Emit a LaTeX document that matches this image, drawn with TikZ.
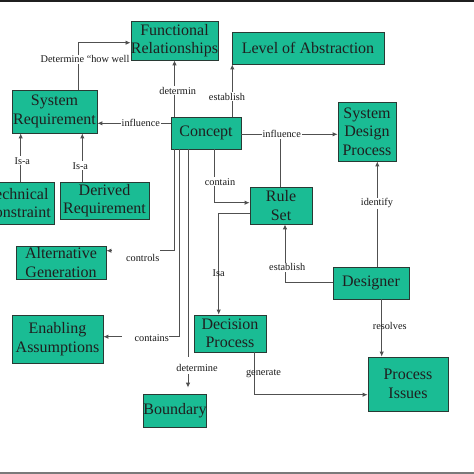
\documentclass[tikz,border=0pt]{standalone}
\usepackage{fontspec}
\setmainfont{Liberation Serif}
\usetikzlibrary{arrows.meta}
\definecolor{boxteal}{RGB}{26,188,148}
\definecolor{boxline}{RGB}{40,58,52}
\definecolor{wirecol}{RGB}{80,80,80}
\tikzset{
  cbox/.style={draw=boxline, line width=0.8pt, fill=boxteal, inner sep=0pt, align=center,
    font=\fontsize{16}{18.5}\selectfont, text=black!88},
  wire/.style={draw=wirecol, line width=0.9pt},
  arr/.style={wire, -{Latex[length=5pt,width=4.5pt]}},
  lbl/.style={font=\fontsize{10.3}{12}\selectfont, inner xsep=1pt, inner ysep=1pt, fill=white, text=black!90},
  lbln/.style={lbl, fill=none},
}
\begin{document}
\begin{tikzpicture}[x=1pt, y=-1pt]
\useasboundingbox (0,0) rectangle (474,474);
\clip (0,0) rectangle (474,474);
\fill[white] (0,0) rectangle (474,474);
\fill[black!88] (0,0) rectangle (474,2.3);
\fill[black!52] (0,472) rectangle (474,474);

% boxes
\node[cbox, minimum width=87pt, minimum height=39pt] (FR) at (174.5,40.5) {Functional\\Relationships};
\node[cbox, minimum width=152pt, minimum height=32pt] (LoA) at (308,48) {Level of Abstraction};
\node[cbox, minimum width=85pt, minimum height=43pt] (SR) at (54.5,111.5) {System\\Requirement};
\node[cbox, minimum width=70pt, minimum height=32pt] (Concept) at (206,133) {Concept};
\node[cbox, minimum width=58pt, minimum height=59pt] (SDP) at (367,131.5) {System\\Design\\Process};
\node[cbox, minimum width=73.5pt, minimum height=42pt] (TC) at (17.5,203) {Technical\\Constraint};
\node[cbox, minimum width=89pt, minimum height=37pt] (DR) at (104.5,200.5) {Derived\\Requirement};
\node[cbox, minimum width=90pt, minimum height=33pt] (AG) at (61,262.5) {Alternative\\Generation};
\node[cbox, minimum width=62pt, minimum height=37pt] (RuleSet) at (281,205.5) {Rule\\Set};
\node[cbox, minimum width=76pt, minimum height=32pt] (Designer) at (371,283) {Designer};
\node[cbox, minimum width=91pt, minimum height=48pt] (EA) at (57.5,339) {Enabling\\Assumptions};
\node[cbox, minimum width=72pt, minimum height=37pt] (DP) at (230,333.5) {Decision\\Process};
\node[cbox, minimum width=62pt, minimum height=33pt] (Boundary) at (175,410.5) {Boundary};
\node[cbox, minimum width=80pt, minimum height=54pt] (PI) at (408,384) {Process\\Issues};

% SR -> FR
\draw[arr] (SR.north-|78,0) |- (FR.west|-0,42.7);
\node[lbl, anchor=west, inner xsep=0.5pt] at (40,59.3) {Determine “how well};

% Concept -> FR
\draw[arr] (Concept.north-|174.5,0) -- (FR.south-|174.5,0);
\node[lbl] at (177.7,90.7) {determin};

% Concept -> LoA
\draw[arr] (Concept.north-|232.3,0) -- (LoA.south-|232.3,0);
\node[lbl] at (227,96.7) {establish};

% Concept -> SR
\draw[arr] (Concept.west|-0,123.3) -- (SR.east|-0,123.3);
\node[lbl] at (140.8,123.3) {influence};

% Concept -> SDP, Rule Set -> SDP
\draw[arr] (Concept.east|-0,134.3) -- (SDP.west|-0,134.3);
\coordinate (jInf) at (280.3,134.3);
\draw[wire] (RuleSet.north-|jInf) -- (jInf);
\node[lbl] at (281.7,134.3) {influence};

% Concept -> Rule Set
\draw[arr] (Concept.south-|214.3,0) |- (RuleSet.west|-0,202.7);
\node[lbl] at (220,181.7) {contain};

% Rule Set -> Decision Process
\draw[arr] (RuleSet.west|-0,213.3) -| (DP.north-|218.7,0);
\node[lbln] at (218.7,272.7) {Isa};

% Concept -> Alternative Generation
\coordinate (ctlA) at (160,250.7);
\coordinate (ctlB) at (112,250.7);
\draw[wire] (Concept.south-|174.3,0) |- (ctlA);
\draw[arr] (ctlB) -- (AG.east|-ctlB);
\node[lbln] at (142.7,258.3) {controls};

% Concept -> Enabling Assumptions
\coordinate (cntA) at (169,336.7);
\coordinate (cntB) at (121.7,336.7);
\draw[wire] (Concept.south-|179.3,0) |- (cntA);
\draw[arr] (cntB) -- (EA.east|-cntB);
\node[lbln] at (151.7,338.3) {contains};

% Concept -> Boundary
\coordinate (detA) at (188,356.7);
\coordinate (detB) at (188,374);
\draw[wire] (Concept.south-|detA) -- (detA);
\draw[arr, shorten >=6pt] (detB) -- (Boundary.north-|detB);
\node[lbln] at (197,368.3) {determine};

% Designer -> Rule Set
\draw[arr] (Designer.west|-0,282.7) -| (RuleSet.south-|285,0);
\node[lbl] at (287.2,267.3) {establish};

% Designer -> SDP
\draw[arr] (Designer.north-|377.3,0) -- (SDP.south-|377.3,0);
\node[lbl] at (377,203.3) {identify};

% Designer -> Process Issues
\draw[arr] (Designer.south-|381.7,0) -- (PI.north-|381.7,0);
\node[lbln] at (389.7,326) {resolves};

% Decision Process -> Process Issues
\draw[arr] (DP.south-|254,0) |- (PI.west|-0,394.7);
\node[lbln] at (263.5,373.3) {generate};

% Is-a links
\draw[arr] (DR.north-|82.3,0) -- (SR.south-|82.3,0);
\node[lbl] at (80.3,165.7) {Is-a};
\draw[arr] (TC.north-|20.7,0) -- (SR.south-|20.7,0);
\node[lbl] at (22.3,160.7) {Is-a};
\end{tikzpicture}
\end{document}
